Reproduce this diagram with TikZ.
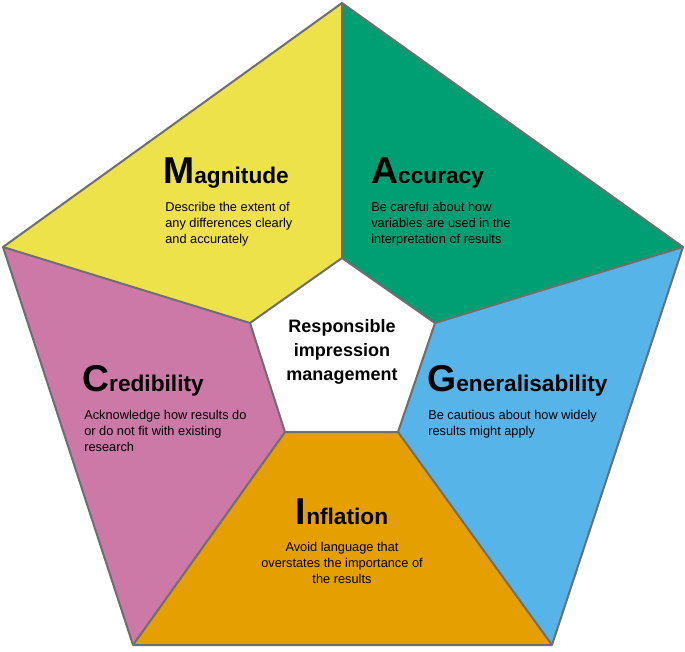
\documentclass[tikz,border=0pt]{standalone}
\usepackage{fontspec}
\setmainfont{Liberation Sans}
\definecolor{cyel}{HTML}{EEE24A}
\definecolor{cgrn}{HTML}{009E73}
\definecolor{cblu}{HTML}{56B4E9}
\definecolor{corg}{HTML}{E69F00}
\definecolor{cpnk}{HTML}{CC79A7}
\definecolor{edge}{HTML}{6E6E6E}
\tikzset{seg/.style={draw=edge,line width=1.5pt,line join=round},
 ttl/.style={anchor=base west,inner sep=0pt,font=\bfseries\fontsize{17}{20}\selectfont},
 dsc/.style={anchor=north west,inner sep=0pt,align=left,font=\fontsize{9.6}{12}\selectfont}}
\newcommand{\BigLet}[1]{{\fontsize{28}{30}\selectfont #1}}
\begin{document}
\begin{tikzpicture}[x=0.75pt,y=-0.75pt]
\useasboundingbox (0,0) rectangle (685,651);
\coordinate (OT) at (342,3); \coordinate (OR) at (683,247); \coordinate (OBR) at (552,645);
\coordinate (OBL) at (133,645); \coordinate (OL) at (3,247);
\coordinate (IT) at (342,258); \coordinate (IR) at (435,323); \coordinate (IBR) at (398,432);
\coordinate (IBL) at (285,432); \coordinate (IL) at (250,323);
\fill[cyel] (OT)--(IT)--(IL)--(OL)--cycle;
\fill[cgrn] (OT)--(OR)--(IR)--(IT)--cycle;
\fill[cblu] (OR)--(OBR)--(IBR)--(IR)--cycle;
\fill[corg] (OBR)--(OBL)--(IBL)--(IBR)--cycle;
\fill[cpnk] (OBL)--(OL)--(IL)--(IBL)--cycle;
\fill[white] (IT)--(IR)--(IBR)--(IBL)--(IL)--cycle;
\draw[seg] (OT)--(OR)--(OBR)--(OBL)--(OL)--cycle;
\draw[seg] (IT)--(IR)--(IBR)--(IBL)--(IL)--cycle;
\draw[seg] (OT)--(IT); \draw[seg] (OR)--(IR); \draw[seg] (OBR)--(IBR);
\draw[seg] (OBL)--(IBL); \draw[seg] (OL)--(IL);
\node[ttl] (tm) at (163,183) {\BigLet{M}agnitude};
\node[dsc] (dm) at (165,202) {Describe the extent of\\any differences clearly\\and accurately};
\node[ttl] (ta) at (371,183) {\BigLet{A}ccuracy};
\node[dsc] (da) at (371,202) {Be careful about how\\variables are used in the\\interpretation of results};
\node[ttl] (tc) at (82,391) {\BigLet{C}redibility};
\node[dsc] (dc) at (84,410) {Acknowledge how results do\\or do not fit with existing\\research};
\node[ttl] (tg) at (427,391) {\BigLet{G}eneralisability};
\node[dsc] (dg) at (428,410) {Be cautious about how widely\\results might apply};
\node[ttl,anchor=base] (ti) at (342,524) {\BigLet{I}nflation};
\node[dsc,anchor=north,align=center] (di) at (342,542) {Avoid language that\\overstates the importance of\\the results};
\node[align=center,inner sep=0pt,font=\bfseries\fontsize{13.5}{18}\selectfont] (ctr) at (342,352) {Responsible\\impression\\management};
\end{tikzpicture}
\end{document}
